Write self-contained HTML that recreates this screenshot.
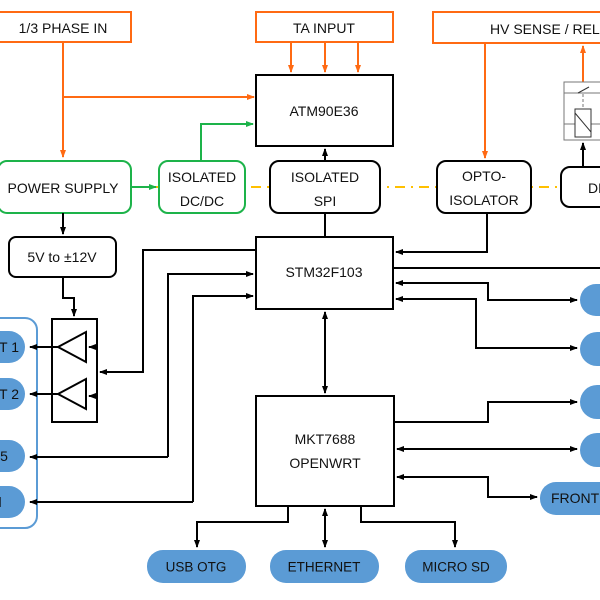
<!DOCTYPE html>
<html><head><meta charset="utf-8"><style>body{margin:0;background:#fff}svg{display:block}text{font-family:"Liberation Sans",sans-serif;font-size:14px;fill:#111;text-anchor:middle;dominant-baseline:central}</style></head><body>
<svg width="600" height="600" viewBox="0 0 600 600" xmlns="http://www.w3.org/2000/svg">
<defs>
<marker id="ak" markerWidth="8" markerHeight="8" refX="7" refY="4" orient="auto" markerUnits="userSpaceOnUse"><path d="M0,1 L8,4 L0,7Z" fill="#000"/></marker>
<marker id="ao" markerWidth="8" markerHeight="8" refX="7" refY="4" orient="auto" markerUnits="userSpaceOnUse"><path d="M0,1 L8,4 L0,7Z" fill="#ff6a13"/></marker>
<marker id="ag" markerWidth="8" markerHeight="8" refX="7" refY="4" orient="auto" markerUnits="userSpaceOnUse"><path d="M0,1 L8,4 L0,7Z" fill="#1db34a"/></marker>
<marker id="sk" markerWidth="8" markerHeight="8" refX="1" refY="4" orient="auto" markerUnits="userSpaceOnUse"><path d="M8,1 L0,4 L8,7Z" fill="#000"/></marker>
</defs>
<line x1="131" y1="187" x2="600" y2="187" stroke="#ffc000" stroke-width="2" stroke-dasharray="10,6,2,6"/>
<g fill="#fff" stroke="#ff6a13" stroke-width="2">
<rect x="-2" y="12" width="133" height="30"/>
<rect x="256" y="12" width="137" height="30"/>
<rect x="433" y="12" width="180" height="31"/>
</g>
<text x="63" y="28">1/3 PHASE IN</text>
<text x="324" y="28">TA INPUT</text>
<text x="490" y="29" style="text-anchor:start">HV SENSE / RELAY</text>
<g stroke="#ff6a13" stroke-width="2" fill="none">
<path d="M63 42 V157" marker-end="url(#ao)"/>
<path d="M63 97 H254" marker-end="url(#ao)"/>
<path d="M291 42 V72" marker-end="url(#ao)"/>
<path d="M325 42 V72" marker-end="url(#ao)"/>
<path d="M358 42 V72" marker-end="url(#ao)"/>
<path d="M485 43 V158" marker-end="url(#ao)"/>
<path d="M583 82 V46" marker-end="url(#ao)"/>
</g>
<g stroke="#1db34a" stroke-width="2" fill="none">
<path d="M201 161 V124 H253" marker-end="url(#ag)"/>
<path d="M131 187 H156" marker-end="url(#ag)"/>
<rect x="-2" y="161" width="133" height="52" rx="9" fill="#fff"/>
<rect x="159" y="161" width="86" height="52" rx="9" fill="#fff"/>
</g>
<text x="63" y="188">POWER SUPPLY</text>
<text x="202" y="177">ISOLATED</text>
<text x="202" y="201">DC/DC</text>
<g stroke="#000" stroke-width="2" fill="#fff">
<rect x="256" y="75" width="137" height="71"/>
<rect x="270" y="161" width="110" height="52" rx="9"/>
<rect x="437" y="161" width="94" height="52" rx="9"/>
<rect x="561" y="167" width="60" height="40" rx="9"/>
<rect x="9" y="237" width="107" height="40" rx="7"/>
<rect x="256" y="237" width="137" height="72"/>
<rect x="256" y="396" width="138" height="110"/>
<rect x="52" y="319" width="45" height="103"/>
</g>
<text x="324" y="111">ATM90E36</text>
<text x="325" y="177">ISOLATED</text>
<text x="325" y="201">SPI</text>
<text x="484" y="176">OPTO-</text>
<text x="484" y="200">ISOLATOR</text>
<text x="588" y="188" style="text-anchor:start">DRV</text>
<text x="62" y="257">5V to ±12V</text>
<text x="324" y="272">STM32F103</text>
<text x="325" y="439">MKT7688</text>
<text x="325" y="463">OPENWRT</text>
<g stroke="#777" stroke-width="1" fill="#fff">
<rect x="564" y="82" width="40" height="58"/>
<line x1="564" y1="93" x2="600" y2="93"/>
<line x1="564" y1="124" x2="600" y2="124"/>
<rect x="575" y="109" width="16" height="28" stroke="#333"/>
<line x1="575" y1="113" x2="591" y2="132" stroke="#333"/>
<line x1="583" y1="94" x2="583" y2="109" stroke-dasharray="3,2"/>
<line x1="578" y1="93" x2="589" y2="87" stroke="#333"/>
</g>
<g stroke="#000" stroke-width="2" fill="#fff">
<path d="M58 347 L86 332 L86 362Z"/>
<path d="M58 394 L86 379 L86 409Z"/>
</g>
<rect x="-20" y="318" width="57" height="210" rx="12" fill="none" stroke="#5b9bd5" stroke-width="2"/>
<g fill="#5b9bd5">
<rect x="-40" y="331" width="65" height="32" rx="16"/>
<rect x="-40" y="378" width="65" height="32" rx="16"/>
<rect x="-40" y="440" width="65" height="32" rx="16"/>
<rect x="-40" y="486" width="65" height="32" rx="16"/>
<rect x="580" y="284" width="60" height="32" rx="16"/>
<rect x="580" y="332" width="60" height="34" rx="17"/>
<rect x="580" y="385" width="60" height="34" rx="17"/>
<rect x="580" y="433" width="60" height="34" rx="17"/>
<rect x="540" y="482" width="100" height="33" rx="16"/>
<rect x="147" y="550" width="99" height="33" rx="16"/>
<rect x="270" y="550" width="109" height="33" rx="16"/>
<rect x="405" y="550" width="102" height="33" rx="16"/>
</g>
<text x="9" y="347">T 1</text>
<text x="9" y="394">T 2</text>
<text x="4" y="456">5</text>
<text x="0" y="502">l</text>
<text x="551" y="498" style="text-anchor:start">FRONT</text>
<text x="196" y="567" style="font-size:13.5px">USB OTG</text>
<text x="324" y="567" style="font-size:13.5px">ETHERNET</text>
<text x="456" y="567" style="font-size:13.5px">MICRO SD</text>
<g stroke="#000" stroke-width="2" fill="none">
<path d="M63 213 V234" marker-end="url(#ak)"/>
<path d="M325 161 V149" marker-end="url(#ak)"/>
<path d="M325 213 V237"/>
<path d="M583 167 V143" marker-end="url(#ak)"/>
<path d="M487 213 V252 H396" marker-end="url(#ak)"/>
<path d="M393 268 H600"/>
<path d="M396 283 H488 V300 H577" marker-start="url(#sk)" marker-end="url(#ak)"/>
<path d="M396 299 H476 V348 H577" marker-start="url(#sk)" marker-end="url(#ak)"/>
<path d="M394 422 H488 V402 H577" marker-end="url(#ak)"/>
<path d="M397 449 H577" marker-start="url(#sk)" marker-end="url(#ak)"/>
<path d="M397 477 H488 V497 H537" marker-start="url(#sk)" marker-end="url(#ak)"/>
<path d="M325 312 V393" marker-start="url(#sk)" marker-end="url(#ak)"/>
<path d="M288 506 V522 H197 V547" marker-end="url(#ak)"/>
<path d="M325 509 V547" marker-start="url(#sk)" marker-end="url(#ak)"/>
<path d="M361 506 V522 H455 V547" marker-end="url(#ak)"/>
<path d="M63 277 V298 H74 V316" marker-end="url(#ak)"/>
<path d="M256 250 H143 V372 H100" marker-end="url(#ak)"/>
<path d="M168 457 V274 H253" marker-end="url(#ak)"/>
<path d="M168 457 H30" marker-end="url(#ak)"/>
<path d="M193 502 V296 H253" marker-end="url(#ak)"/>
<path d="M193 502 H30" marker-end="url(#ak)"/>
<path d="M58 347 H30" marker-end="url(#ak)"/>
<path d="M58 394 H30" marker-end="url(#ak)"/>
<path d="M97 347 H89" marker-end="url(#ak)"/>
<path d="M97 396 H89" marker-end="url(#ak)"/>
</g>
</svg>
</body></html>
